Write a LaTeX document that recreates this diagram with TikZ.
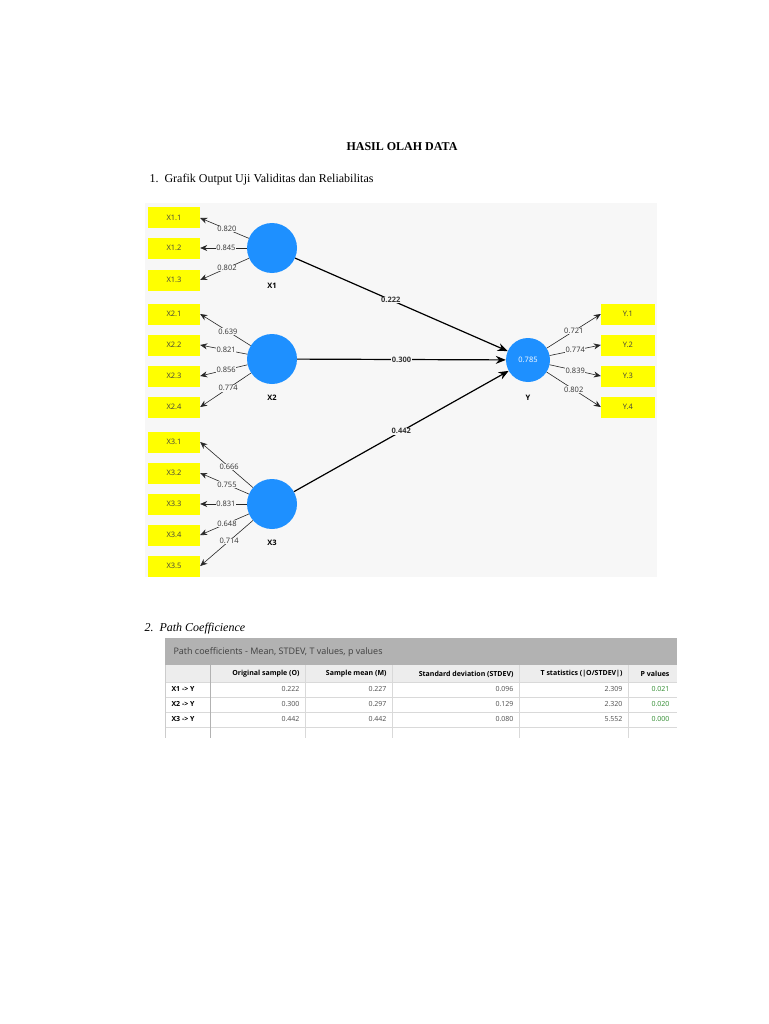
\documentclass[tikz,border=0pt]{standalone}
\usepackage{fontspec}
\setmainfont{Liberation Serif}
\newfontfamily\dg{Open Sans}
\usetikzlibrary{arrows.meta}
\definecolor{bg}{HTML}{F7F7F7}
\definecolor{lv}{HTML}{1E90FF}
\definecolor{yb}{HTML}{FFFF00}
\definecolor{gr}{HTML}{2E8B2E}
\tikzset{
 ind/.style={fill=yb,minimum width=52,minimum height=21,inner sep=0,font=\dg\fontsize{7.5}{8}\selectfont,text=black!75},
 lat/.style={circle,fill=lv,minimum size=50,inner sep=0},
 lbl/.style={font=\dg\bfseries\fontsize{7.5}{8}\selectfont},
 ld/.style={font=\dg\fontsize{7.5}{8}\selectfont,fill=bg,inner sep=0.5pt,text=black!80},
 ar/.style={-{Stealth[length=7pt,width=6pt]},black!85,line width=0.6pt},
 par/.style={-{Stealth[length=10pt,width=8pt]},black,line width=1.2pt},
 th/.style={font=\dg\bfseries\fontsize{7}{8}\selectfont,anchor=east},
 td/.style={font=\dg\fontsize{7}{8}\selectfont,anchor=east,text=black!70},
}
\begin{document}
\begin{tikzpicture}[x=1pt,y=-1pt]
\useasboundingbox (0,0) rectangle (768,1024);
\fill[white] (0,0) rectangle (768,1024);
\node[font=\bfseries\fontsize{12}{14}\selectfont] (title) at (402,147) {HASIL OLAH DATA};
\node[anchor=west,font=\fontsize{12}{14}\selectfont] (h1) at (146,180) {1.\ \ Grafik Output Uji Validitas dan Reliabilitas};
\fill[bg] (145,203) rectangle (657,577);
% indicators
\foreach \m/\n/\y in {a11/X1.1/218,a12/X1.2/248,a13/X1.3/280,a21/X2.1/314,a22/X2.2/345,a23/X2.3/376,a24/X2.4/407,a31/X3.1/442,a32/X3.2/473,a33/X3.3/504,a34/X3.4/535,a35/X3.5/566}
  \node[ind] (\m) at (174,\y) {\n};
\foreach \m/\n/\y in {y1/Y.1/314,y2/Y.2/345,y3/Y.3/376,y4/Y.4/407}
  \node[ind,minimum width=54] (\m) at (628,\y) {\n};
\node[lat] (X1) at (272,248) {};
\node[lat] (X2) at (272,359) {};
\node[lat] (X3) at (272,504) {};
\node[lat,minimum size=44,text=white,font=\dg\fontsize{7.5}{8}\selectfont] (Y) at (528,360) {0.785};
\node[lbl] (lx1) at (272,286) {X1};
\node[lbl] (lx2) at (272,398) {X2};
\node[lbl] (lx3) at (272,543) {X3};
\node[lbl] (ly) at (528,398) {Y};
% loadings
\foreach \s/\t/\v in {X1/a11/0.820,X1/a12/0.845,X1/a13/0.802,X2/a21/0.639,X2/a22/0.821,X2/a23/0.856,X2/a24/0.774,X3/a31/0.666,X3/a32/0.755,X3/a33/0.831,X3/a34/0.648,X3/a35/0.714}
  \draw[ar] (\s) -- (\t.east) node[ld,pos=0.45] {\v};
\foreach \t/\v in {y1/0.721,y2/0.774,y3/0.839,y4/0.802}
  \draw[ar] (Y) -- (\t.west) node[ld,pos=0.5] {\v};
\draw[par] (X1) -- (Y) node[ld,pos=0.45,font=\dg\bfseries\fontsize{7.5}{8}\selectfont] {0.222};
\draw[par] (X2) -- (Y) node[ld,pos=0.5,font=\dg\bfseries\fontsize{7.5}{8}\selectfont] {0.300};
\draw[par] (X3) -- (Y) node[ld,pos=0.5,font=\dg\bfseries\fontsize{7.5}{8}\selectfont] {0.442};
% section 2
\node[anchor=west,font=\itshape\fontsize{12}{14}\selectfont] (h2) at (141,629) {2.\ \ Path Coefficience};
\fill[black!30] (165,638) rectangle (677,665);
\node[anchor=west,font=\dg\fontsize{9}{10}\selectfont,text=black!75] (tt) at (170,652) {Path coefficients - Mean, STDEV, T values, p values};
\fill[black!7] (165,665) rectangle (677,682);
\fill[white] (165,682) rectangle (677,738);
\foreach \y in {682,697,712,727} \draw[black!15] (165,\y) -- (677,\y);
\foreach \x in {305,392,519,628} \draw[black!15] (\x,665) -- (\x,738);
\draw[black!30,line width=1pt] (210,665) -- (210,738);
\draw[black!20] (165,665) -- (165,738);
\foreach \x/\t in {303/{Original sample (O)},390/{Sample mean (M)},517/{Standard deviation (STDEV)},626/{T statistics (|O/STDEV|)},673/{P values}}
  \node[th] at (\x,674) {\t};
\foreach \y/\r/\a/\b/\c/\d/\e in {689/X1 -> Y/0.222/0.227/0.096/2.309/0.021,704/X2 -> Y/0.300/0.297/0.129/2.320/0.020,719/X3 -> Y/0.442/0.442/0.080/5.552/0.000}{
  \node[th,anchor=west] at (168,\y) {\r};
  \node[td] at (303,\y) {\a};
  \node[td] at (390,\y) {\b};
  \node[td] at (517,\y) {\c};
  \node[td] at (626,\y) {\d};
  \node[td,text=gr] at (673,\y) {\e};
}
\end{tikzpicture}
\end{document}
